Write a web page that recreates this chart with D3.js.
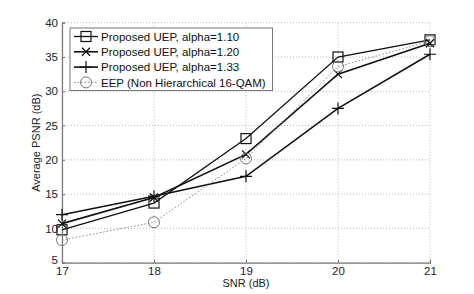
<!DOCTYPE html>
<html><head><meta charset="utf-8">
<script src="https://cdn.jsdelivr.net/npm/d3@7"></script>
<style>body{margin:0;background:#fff}svg{display:block}</style>
</head><body>
<svg id="c" width="474" height="294"></svg>
<script>
const snr = [17, 18, 19, 20, 21];
const uep110 = [9.8, 13.7, 23.1, 35.0, 37.5];
const uep120 = [10.7, 14.5, 20.8, 32.5, 37.0];
const uep133 = [12.0, 14.7, 17.6, 27.5, 35.4];
const eep = [8.3, 10.9, 20.2, 33.6, 37.3];
const yTicks = [5, 10, 15, 20, 25, 30, 35, 40];
const xTicks = [17, 18, 19, 20, 21];
const seriesNames = ["Proposed UEP, alpha=1.10", "Proposed UEP, alpha=1.20", "Proposed UEP, alpha=1.33", "EEP (Non Hierarchical 16-QAM)"];

const svg = d3.select("#c");
const m = {l: 62, r: 430, t: 22.7, b: 262.7};
const x = d3.scaleLinear().domain([17, 21]).range([m.l, m.r]);
const y = d3.scaleLinear().domain([5, 40]).range([m.b, m.t]);
const font = "Liberation Sans, Arial, sans-serif";

// grid
const g = svg.append("g");
xTicks.forEach(t => g.append("line").attr("x1", x(t)).attr("x2", x(t)).attr("y1", m.t).attr("y2", m.b)
  .attr("stroke", "#aaa").attr("stroke-width", 0.8).attr("stroke-dasharray", "1,2"));
yTicks.forEach(t => g.append("line").attr("x1", m.l).attr("x2", m.r).attr("y1", y(t)).attr("y2", y(t))
  .attr("stroke", "#aaa").attr("stroke-width", 0.8).attr("stroke-dasharray", "1,2"));

// axes
const xa = svg.append("g").attr("transform", `translate(0,${m.b})`)
  .call(d3.axisBottom(x).tickValues(xTicks).tickFormat(d3.format("d")).tickSize(-3).tickPadding(5));
const ya = svg.append("g").attr("transform", `translate(${m.l},0)`)
  .call(d3.axisLeft(y).tickValues(yTicks).tickFormat(d3.format("d")).tickSize(-3).tickPadding(4));
[xa, ya].forEach(a => {
  a.select(".domain").attr("stroke", "#777").attr("stroke-width", 1.2);
  a.selectAll(".tick line").attr("stroke", "#777");
  a.selectAll("text").attr("font-family", font).attr("font-size", 11.5).attr("fill", "#222");
});
xa.selectAll("text").attr("dy", "0.6em");
ya.selectAll(".tick text").filter(d => d === 5).attr("dy", "0.05em");

svg.append("text").attr("x", x(19)).attr("y", 287).attr("text-anchor", "middle")
  .attr("font-family", font).attr("font-size", 11).attr("fill", "#222").text("SNR (dB)");
svg.append("text").attr("transform", `translate(40,${(m.t + m.b) / 2}) rotate(-90)`).attr("text-anchor", "middle")
  .attr("font-family", font).attr("font-size", 11).attr("fill", "#222").text("Average PSNR (dB)");

// markers
function marker(sel, type, cx, cy) {
  if (type === "square") sel.append("rect").attr("x", cx - 5).attr("y", cy - 5).attr("width", 10).attr("height", 10)
    .attr("fill", "none").attr("stroke", "#111").attr("stroke-width", 1.2);
  if (type === "x") sel.append("path").attr("d", `M${cx-4},${cy-4}L${cx+4},${cy+4}M${cx-4},${cy+4}L${cx+4},${cy-4}`)
    .attr("stroke", "#111").attr("stroke-width", 1.3);
  if (type === "plus") sel.append("path").attr("d", `M${cx-6},${cy}L${cx+6},${cy}M${cx},${cy-6}L${cx},${cy+6}`)
    .attr("stroke", "#111").attr("stroke-width", 1.2);
  if (type === "circle") sel.append("circle").attr("cx", cx).attr("cy", cy).attr("r", 5.5)
    .attr("fill", "none").attr("stroke", "#777").attr("stroke-width", 1);
}

const series = [
  {vals: uep110, m: "square", color: "#111", w: 1.3, dash: null},
  {vals: uep120, m: "x", color: "#111", w: 1.6, dash: null},
  {vals: uep133, m: "plus", color: "#111", w: 1.6, dash: null},
  {vals: eep, m: "circle", color: "#888", w: 1, dash: "1.5,2"}
];
const line = d3.line().x((d, i) => x(snr[i])).y(d => y(d));
series.forEach(s => {
  svg.append("path").attr("d", line(s.vals)).attr("fill", "none").attr("stroke", s.color)
    .attr("stroke-width", s.w).attr("stroke-dasharray", s.dash);
  const mg = svg.append("g");
  s.vals.forEach((v, i) => marker(mg, s.m, x(snr[i]), y(v)));
});

// legend
const lg = svg.append("g");
lg.append("rect").attr("x", 70).attr("y", 28).attr("width", 202.5).attr("height", 62.5)
  .attr("fill", "#fff").attr("stroke", "#777").attr("stroke-width", 1);
series.forEach((s, i) => {
  const cy = 36.5 + i * 15.3;
  lg.append("line").attr("x1", 74).attr("x2", 98).attr("y1", cy).attr("y2", cy)
    .attr("stroke", s.color).attr("stroke-width", s.w).attr("stroke-dasharray", s.dash);
  marker(lg, s.m, 86, cy);
  lg.append("text").attr("x", 101).attr("y", cy).attr("dy", "0.36em")
    .attr("font-family", font).attr("font-size", 11.5).attr("fill", "#111").text(seriesNames[i]);
});
</script>
</body></html>
